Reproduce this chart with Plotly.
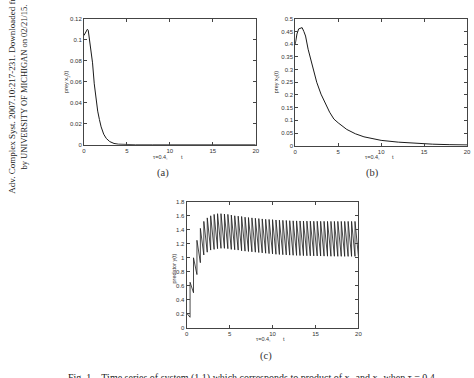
import plotly.graph_objects as go

W, H = 474, 378

# ---- data ----
prey1_t = [0, 0.2, 0.4, 0.5, 0.8, 1.0, 1.2, 1.4, 1.6, 1.8, 2.0, 2.3, 2.6, 3.0, 3.5, 4.0, 4.5, 5, 6, 8, 10, 15, 20]
prey1_v = [0.104, 0.107, 0.110, 0.109, 0.092, 0.078, 0.058, 0.043, 0.032, 0.024, 0.017, 0.010, 0.006, 0.003,
           0.0012, 0.0005, 0.0002, 0.0001, 0, 0, 0, 0, 0]

prey2_t = [0, 0.2, 0.4, 0.6, 0.8, 1.0, 1.2, 1.5, 2.0, 2.5, 3.0, 3.5, 4.0, 4.5, 5, 6, 7, 8, 9, 10, 12, 14, 16, 18, 20]
prey2_v = [0.40, 0.44, 0.46, 0.462, 0.465, 0.45, 0.432, 0.38, 0.315, 0.25, 0.203, 0.165, 0.132, 0.105, 0.09,
           0.064, 0.047, 0.035, 0.027, 0.021, 0.014, 0.009, 0.006, 0.004, 0.003]

tau = 0.4
pred_start = [0.21, 0.15]
pred_peaks = [0.65, 1.00, 1.25, 1.42, 1.52, 1.57, 1.60, 1.62, 1.63, 1.63,
              1.625, 1.62, 1.61, 1.60, 1.595, 1.59, 1.58, 1.575, 1.57, 1.565,
              1.56, 1.555, 1.55, 1.548, 1.545, 1.54, 1.538, 1.535, 1.533, 1.53,
              1.528, 1.527, 1.526, 1.525, 1.524, 1.523, 1.522, 1.522, 1.521, 1.521,
              1.52, 1.52, 1.52, 1.52, 1.52, 1.52, 1.52, 1.52, 1.52]
pred_troughs = [0.50, 0.76, 0.93, 1.04, 1.08, 1.11, 1.12, 1.13, 1.135, 1.135,
                1.13, 1.12, 1.115, 1.11, 1.10, 1.095, 1.09, 1.085, 1.08, 1.075,
                1.07, 1.065, 1.06, 1.055, 1.05, 1.047, 1.044, 1.041, 1.038, 1.036,
                1.034, 1.032, 1.03, 1.029, 1.028, 1.027, 1.026, 1.025, 1.024, 1.023,
                1.022, 1.022, 1.021, 1.021, 1.02, 1.02, 1.02, 1.02, 1.02]

x_ticks = [0, 5, 10, 15, 20]
x_ticklabels = ["0", "5", "10", "15", "20"]
ya_ticks = [0, 0.02, 0.04, 0.06, 0.08, 0.1, 0.12]
ya_labels = ["0", "0.02", "0.04", "0.06", "0.08", "0.1", "0.12"]
yb_ticks = [0, 0.05, 0.1, 0.15, 0.2, 0.25, 0.3, 0.35, 0.4, 0.45, 0.5]
yb_labels = ["0", "0.05", "0.1", "0.15", "0.2", "0.25", "0.3", "0.35", "0.4", "0.45", "0.5"]
yc_ticks = [0, 0.2, 0.4, 0.6, 0.8, 1, 1.2, 1.4, 1.6, 1.8]
yc_labels = ["0", "0.2", "0.4", "0.6", "0.8", "1", "1.2", "1.4", "1.6", "1.8"]

# build predator sawtooth (impulse every tau)
pred_t = [0, tau]
pred_v = list(pred_start)
for k, (p, q) in enumerate(zip(pred_peaks, pred_troughs), start=1):
    pred_t += [k * tau, (k + 1) * tau]
    pred_v += [p, q]

line_col = "#1a1a1a"
fig = go.Figure()
fig.add_trace(go.Scatter(x=prey1_t, y=prey1_v, mode="lines", line=dict(color=line_col, width=1),
                         xaxis="x", yaxis="y", showlegend=False))
fig.add_trace(go.Scatter(x=prey2_t, y=prey2_v, mode="lines", line=dict(color=line_col, width=1),
                         xaxis="x2", yaxis="y2", showlegend=False))
fig.add_trace(go.Scatter(x=pred_t, y=pred_v, mode="lines", line=dict(color=line_col, width=0.8),
                         xaxis="x3", yaxis="y3", showlegend=False))

def px(x):
    return x / W

def py(y):
    return 1 - y / H

tickfont = dict(family="Liberation Sans, Arial, sans-serif", size=6, color="#333")
common = dict(showline=True, linecolor="#444", linewidth=1, mirror="ticks", ticks="inside",
              ticklen=3, tickcolor="#444", tickwidth=1, showgrid=False, zeroline=False,
              tickfont=tickfont)

def xax(d, anchor):
    return dict(domain=d, anchor=anchor, range=[0, 20], tickmode="array", tickvals=x_ticks,
                ticktext=x_ticklabels, **common)

def yax(d, anchor, rng, tv, tt):
    return dict(domain=d, anchor=anchor, range=rng, tickmode="array", tickvals=tv, ticktext=tt, **common)

fig.update_layout(
    width=W, height=H, margin=dict(l=0, r=0, t=0, b=0),
    paper_bgcolor="white", plot_bgcolor="white",
    xaxis=xax([px(83), px(257)], "y"),
    yaxis=yax([py(144), py(16)], "x", [0, 0.12], ya_ticks, ya_labels),
    xaxis2=xax([px(297), px(471)], "y2"),
    yaxis2=yax([py(145), py(16)], "x2", [0, 0.5], yb_ticks, yb_labels),
    xaxis3=xax([px(187), px(361)], "y3"),
    yaxis3=yax([py(330), py(202)], "x3", [0, 1.8], yc_ticks, yc_labels),
)

small = dict(family="Liberation Sans, Arial, sans-serif", size=5.5, color="#333")
serif = "Liberation Serif, Times New Roman, serif"
ann = []

def a(x, y, text, font, angle=0, xa="center", ya="middle"):
    ann.append(dict(x=px(x), y=py(y), xref="paper", yref="paper", text=text, showarrow=False,
                    font=font, textangle=angle, xanchor=xa, yanchor=ya))

# y titles
a(66, 80, "prey x<sub>1</sub>(t)", small, -90)
a(278, 80, "prey x<sub>2</sub>(t)", small, -90)
a(174, 270, "predator y(t)", small, -90)
# x titles
for c, yy in [(170, 156), (384, 156), (274, 341)]:
    a(c - 9, yy, "τ=0.4,", small)
    a(c + 12, yy, "t", small)
# panel labels
lab = dict(family=serif, size=10.5, color="#333")
a(163, 173, "(a)", lab)
a(375, 173, "(b)", lab)
a(267, 359, "(c)", lab)
# side watermark
a(10, 196, "Adv. Complex Syst. 2007.10:217-231. Downloaded from www.worldscientific.com",
  dict(family=serif, size=9, color="#222"), -90, ya="bottom")
a(22, 171, "by UNIVERSITY OF MICHIGAN on 02/21/15.",
  dict(family=serif, size=8.5, color="#222"), -90, ya="bottom")
# caption (cut off at bottom)
a(65, 382, "Fig. 1.&nbsp;&nbsp;&nbsp;Time series of system (1.1) which corresponds to product of x<sub>1</sub> and x<sub>2</sub> when τ = 0.4",
  dict(family=serif, size=10, color="#222"), 0, xa="left")

fig.update_layout(annotations=ann)
fig.write_html("out.html", config={"displayModeBar": False},
               post_script="document.body.style.margin='0';document.body.style.padding='0';document.body.style.overflow='hidden';")
